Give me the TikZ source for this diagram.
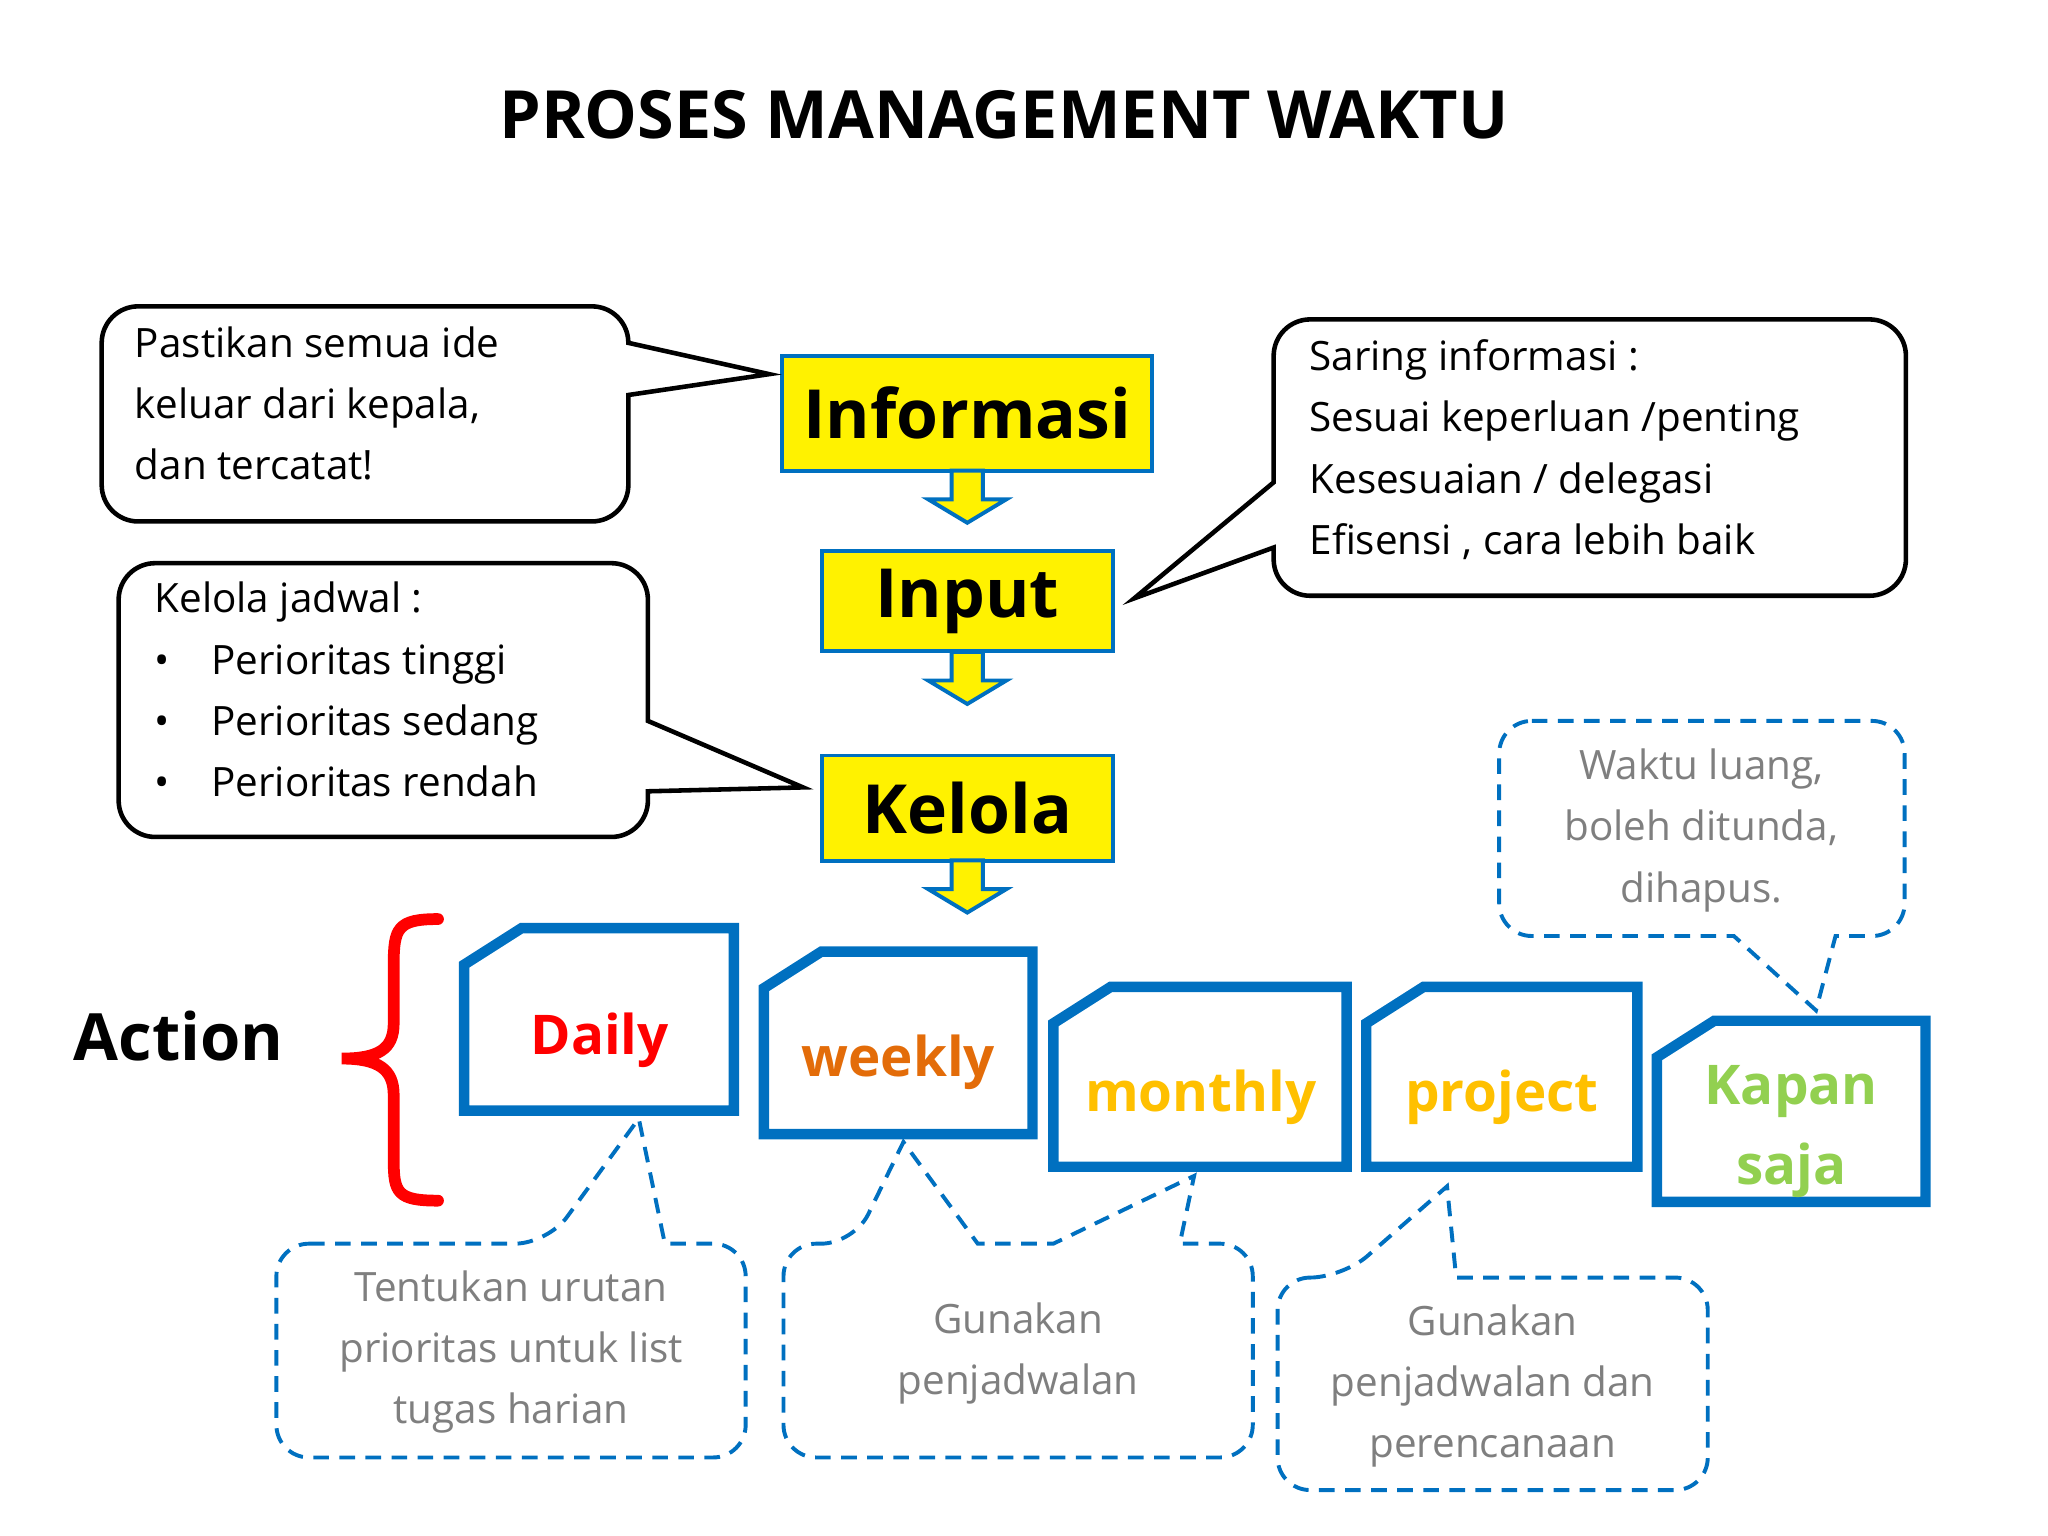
\documentclass[tikz,border=0pt]{standalone}
\usepackage{fontspec}
\setmainfont{Open Sans}
\definecolor{bl}{HTML}{0070C0}
\definecolor{gr}{HTML}{7F7F7F}
\definecolor{orn}{HTML}{E36C09}
\definecolor{gold}{HTML}{FFC000}
\definecolor{lg}{HTML}{92D050}
\begin{document}
\begin{tikzpicture}[x=1pt,y=-1pt,
  call/.style={draw=black,line width=3.5pt,fill=white},
  dcall/.style={draw=bl,line width=3pt,dash pattern=on 12pt off 8pt,fill=white},
  ybox/.style={draw=bl,line width=3pt,fill=yellow,font=\bfseries\fontsize{52}{60}\selectfont,inner sep=0pt},
  card/.style={draw=bl,line width=8pt,line join=miter},
  ctext/.style={font=\bfseries\fontsize{42}{56}\selectfont,align=center},
  btext/.style={font=\fontsize{31}{47}\selectfont,align=left,anchor=north west},
  gtext/.style={font=\fontsize{31}{47}\selectfont,align=center,text=gr},
  barrow/.style={draw=bl,line width=3pt,fill=yellow,line join=miter}]
\useasboundingbox (0,0) rectangle (1571,1178);
\node[font=\bfseries\fontsize{51}{56}\selectfont] (title) at (770,88) {PROSES MANAGEMENT WAKTU};
% yellow boxes
\node[ybox,minimum width=284,minimum height=88] (info) at (742,317) {Informasi};
\node[ybox,minimum width=223,minimum height=77] (input) at (742,461) {Input};
\node[ybox,minimum width=223,minimum height=81] (kelola) at (742,620) {Kelola};
\foreach \y in {361,500,660}{
 \draw[barrow] (730,\y) -- (730,\y+22) -- (712,\y+22) -- (742,\y+40) -- (772,\y+22) -- (754,\y+22) -- (754,\y) -- cycle;}
% callouts
\draw[call,rounded corners=28] (78,235) -- (482,235) [sharp corners]-- (482,263) -- (590,287) -- (482,303) [rounded corners=28]-- (482,400) -- (78,400) -- cycle;
\node[btext] (c1) at (100,247) {Pastikan semua ide\\keluar dari kepala,\\dan tercatat!};
\draw[call,rounded corners=28] (977,245) -- (1462,245) -- (1462,457) -- (977,457) [sharp corners]-- (977,420) -- (870,459) -- (977,370) [rounded corners=28]-- cycle;
\node[btext] (c2) at (1001,257) {Saring informasi :\\Sesuai keperluan /penting\\Kesesuaian / delegasi\\Efisensi , cara lebih baik};
\draw[call,rounded corners=28] (91,432) -- (497,432) [sharp corners]-- (497,553) -- (616,604) -- (497,607) [rounded corners=28]-- (497,642) -- (91,642) -- cycle;
\node[btext] (c3) at (115,443) {Kelola jadwal :\\[0pt]\textbullet\hspace{32pt}Perioritas tinggi\\\textbullet\hspace{32pt}Perioritas sedang\\\textbullet\hspace{32pt}Perioritas rendah};
% action
\node[font=\bfseries\fontsize{50}{56}\selectfont] (action) at (137,795) {Action};
\draw[red,line width=9pt,line cap=round] (336,705) .. controls (305,705) and (302,712) .. (302,740) -- (302,785) .. controls (302,805) and (290,812) .. (262,812) .. controls (290,812) and (302,820) .. (302,840) -- (302,890) .. controls (302,915) and (305,921) .. (336,921);
% cards
\newcommand{\card}[5]{\draw[card] (#1+44,#2) -- (#3,#2) -- (#3,#4) -- (#1,#4) -- (#1,#2+28) -- cycle; \node[ctext] (#5) at ({(#1+#3)/2},{(#2+#4)/2+14}) {};}
\card{356}{712}{563}{852}{dailyc}
\card{586}{730}{792}{870}{weeklyc}
\card{808}{757}{1033}{895}{monthlyc}
\card{1048}{757}{1256}{895}{projectc}
\card{1271}{783}{1477}{922}{kapanc}
\node[ctext,text=red] (daily) at (460,798) {Daily};
\node[ctext,text=orn] (weekly) at (689,815) {weekly};
\node[ctext,text=gold] (monthly) at (921,842) {monthly};
\node[ctext,text=gold] (project) at (1152,842) {project};
\node[ctext,text=lg,font=\bfseries\fontsize{42}{62}\selectfont] (kapan) at (1374,868) {Kapan\\saja};
% dashed callouts
\draw[dcall,rounded corners=25] (212,954) -- (420,954) [sharp corners]-- (490,858) -- (510,954) [rounded corners=25]-- (572,954) -- (572,1118) -- (212,1118) -- cycle;
\node[gtext] (n1) at (392,1037) {Tentukan urutan\\prioritas untuk list\\tugas harian};
\draw[dcall,rounded corners=25] (601,954) -- (655,954) [sharp corners]-- (693,876) -- (750,954) -- (808,954) -- (916,902) -- (905,954) [rounded corners=25]-- (961,954) -- (961,1118) -- (601,1118) -- cycle;
\node[gtext] (n2) at (781,1038) {Gunakan\\penjadwalan};
\draw[dcall,rounded corners=25] (980,980) -- (1030,980) [sharp corners]-- (1110,910) -- (1117,980) [rounded corners=25]-- (1310,980) -- (1310,1143) -- (980,1143) -- cycle;
\node[gtext] (n3) at (1145,1063) {Gunakan\\penjadwalan dan\\perencanaan};
\draw[dcall,rounded corners=25] (1150,553) -- (1461,553) -- (1461,718) [sharp corners]-- (1408,718) -- (1393,775) -- (1330,718) [rounded corners=25]-- (1150,718) -- cycle;
\node[gtext] (n4) at (1305,637) {Waktu luang,\\boleh ditunda,\\dihapus.};
\end{tikzpicture}
\end{document}
